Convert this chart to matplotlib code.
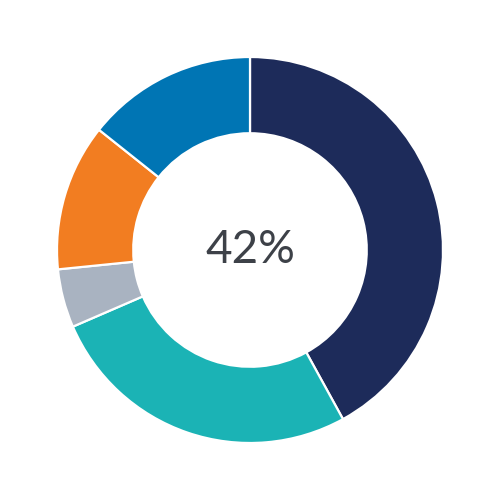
import matplotlib
matplotlib.use("Agg")
import matplotlib.pyplot as plt

labels = ["A", "B", "C", "D", "E"]
values = [42, 26.5, 4.9, 12.3, 14.3]
colors = ["#1d2b5a", "#1bb3b5", "#a9b3c1", "#f27d21", "#0075b4"]
center_text = "42%"

fig = plt.figure(figsize=(5, 5), dpi=100)
ax = fig.add_axes([0, 0, 1, 1])
ax.pie(values, colors=colors, startangle=90, counterclock=False, radius=1.0,
       wedgeprops=dict(width=0.395, edgecolor="white", linewidth=1.6))
ax.text(0, 0.0, center_text, ha="center", va="center", fontsize=33,
        color="#3d4148", family=["Lato", "DejaVu Sans"], fontweight="normal")
lim = 250 / 193
ax.set_xlim(-lim, lim)
ax.set_ylim(-lim, lim)
ax.set_aspect("equal")
ax.axis("off")
fig.savefig("out.png", dpi=100, facecolor="white")
